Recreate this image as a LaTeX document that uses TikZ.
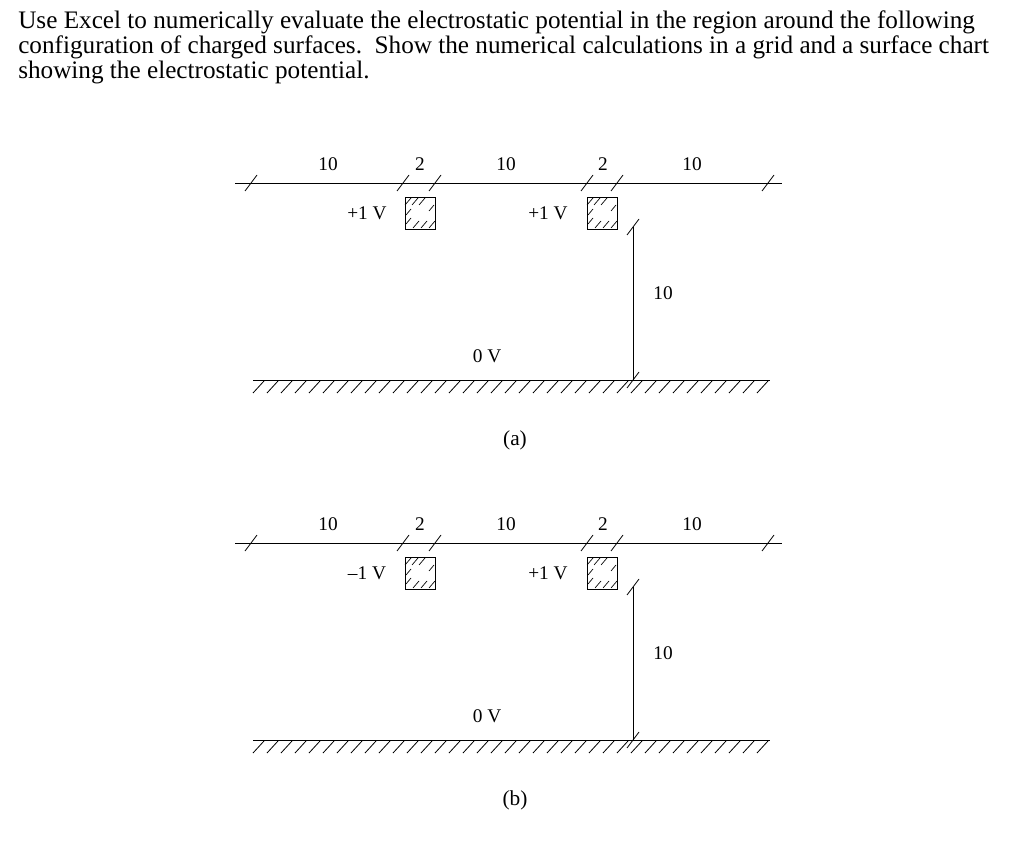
\documentclass[tikz,border=0pt]{standalone}
\usepackage{fontspec}
\setmainfont{Liberation Serif}
\begin{document}
\begin{tikzpicture}[x=0.75pt,y=-0.75pt,
  lbl/.style={font=\fontsize{14.5pt}{16pt}\selectfont,inner sep=0},
  txt/.style={font=\fontsize{18.9pt}{20pt}\selectfont,anchor=base west,inner sep=0},
  tk/.style={line width=0.6pt}]
\useasboundingbox (0,0) rectangle (1024,852);
\node[txt] (t1) at (18,29) {Use Excel to numerically evaluate the electrostatic potential in the region around the following};
\node[txt] (t2) at (18,54) {configuration of charged surfaces.\ \ Show the numerical calculations in a grid and a surface chart};
\node[txt] (t3) at (18,79) {showing the electrostatic potential.};
\foreach \o/\v/\cap/\n in {0/+1/(a)/a,360/\textendash1/(b)/b}{
  \begin{scope}[yshift=-\o*0.75pt]
    \coordinate (L\n) at (235,183); \coordinate (R\n) at (782,183);
    \draw[line width=0.6pt] (L\n) -- (R\n);
    \foreach \x in {251,403,435,587,617,768}{\draw[tk] (\x-6,191) -- (\x+6,175);}
    \foreach \x in {405,587}{
      \draw[line width=0.7pt] (\x,197) rectangle (\x+30,229);
      \foreach \d in {0,7,14}{\draw[line width=0.5pt] (\x+\d,205) -- ++(6,-7);}
      \foreach \d in {0,8,16}{\draw[line width=0.5pt] (\x+8+\d,228) -- ++(6,-7);}
      \draw[line width=0.5pt] (\x+1,215) -- ++(5,-6);
      \draw[line width=0.5pt] (\x+1,224) -- ++(5,-6);
      \draw[line width=0.5pt] (\x+24,211) -- ++(5,-6);
    }
    \coordinate (V\n) at (633,227); \coordinate (G\n) at (633,380);
    \draw[line width=0.6pt] (V\n) -- (G\n);
    \draw[tk] (627,235) -- (639,219);
    \draw[tk] (627,388) -- (639,372);
    \coordinate (GL\n) at (253,380); \coordinate (GR\n) at (770,380);
    \draw[line width=0.7pt] (GL\n) -- (GR\n);
    \foreach \x in {253,267,...,760}{\draw[line width=0.6pt] (\x,393) -- (\x+11,381);}
    \node[lbl] (a1\n) at (328,164) {10};
    \node[lbl] (a2\n) at (420,164) {2};
    \node[lbl] (a3\n) at (506,164) {10};
    \node[lbl] (a4\n) at (603,164) {2};
    \node[lbl] (a5\n) at (692,164) {10};
    \node[lbl] (p1\n) at (367,213) {\v\ V};
    \node[lbl] (p2\n) at (548,213) {+1 V};
    \node[lbl] (h\n) at (663,293) {10};
    \node[lbl] (z\n) at (487,356) {0 V};
    \node[lbl,font=\fontsize{16pt}{18pt}\selectfont] (c\n) at (515,440) {\cap};
  \end{scope}}
\end{tikzpicture}
\end{document}
